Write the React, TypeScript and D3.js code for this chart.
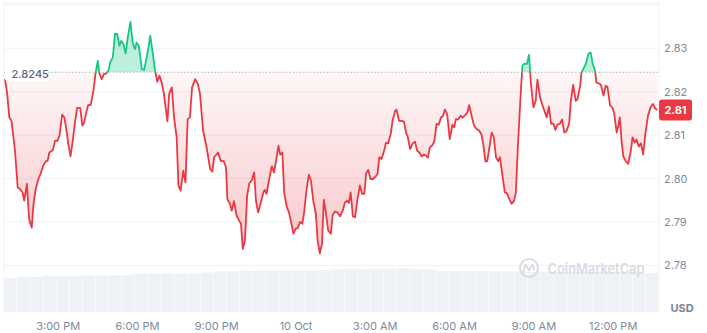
import React from 'react';
import * as d3 from 'd3';

const START = new Date(2024, 9, 9, 12, 57);
const SPAN_MIN = 1487;

const minutes = [
  2,7,12,17,25,31,36,42,46,52,57,63,67,72,78,83,89,95,99,103,
  111,116,121,126,132,137,142,146,151,156,161,166,173,178,182,186,191,197,203,208,
  213,216,222,227,232,237,241,247,252,257,262,266,271,276,281,287,292,297,301,306,
  313,318,324,328,332,338,343,348,353,358,363,371,375,381,386,392,396,401,407,412,
  417,422,427,434,440,445,452,460,468,473,477,486,492,
  499,504,507,513,517,522,528,534,538,542,547,552,557,562,568,572,577,583,589,592,
  596,602,608,613,617,623,627,632,636,642,647,651,657,662,667,672,677,681,686,692,
  697,702,708,712,717,722,726,731,736,742,746,751,757,763,769,774,779,783,787,792,
  797,802,808,813,818,822,827,832,838,844,848,852,857,863,867,872,878,882,888,891,
  897,903,908,913,916,922,928,933,938,943,948,953,958,962,967,972,977,982,987,992,
  996,1001,1006,1012,1018,1022,1026,1031,1037,1041,1046,1052,1056,1062,1067,1073,1079,1084,1088,1093,
  1097,1102,1107,1112,1117,1122,1126,1131,1137,1142,1147,1152,1158,1162,1167,1173,1177,1180,1187,1192,
  1196,1202,1207,1211,1217,1222,1227,1232,1237,1242,1247,1252,1256,1262,1267,1272,1277,1283,1287,1292,
  1298,1302,1308,1311,1317,1321,1327,1332,1336,1342,1345,1351,1355,1361,1366,1370,1376,1381,1385,1391,
  1394,1398,1402,1406,1411,1417,1423,1427,1432,1436,1441,1446,1451,1456,1462,1468,1473,1478,1483,
];

const prices = [
  2.8229,2.8198,2.8141,2.8133,2.8064,2.7980,2.7976,2.7968,2.7949,2.7988,
  2.7907,2.7887,2.7942,2.7976,2.7999,2.8011,2.8030,2.8040,2.8041,2.8060,
  2.8066,2.8087,2.8087,2.8099,2.8147,2.8141,2.8110,2.8080,2.8051,2.8087,
  2.8129,2.8163,2.8163,2.8122,2.8129,2.8149,2.8169,2.8170,2.8202,2.8244,
  2.8271,2.8244,2.8229,2.8241,2.8242,2.8248,2.8267,2.8279,2.8334,2.8333,
  2.8306,2.8317,2.8310,2.8288,2.8325,2.8361,2.8313,2.8298,2.8313,2.8306,
  2.8252,2.8250,2.8279,2.8302,2.8329,2.8287,2.8248,2.8223,2.8237,2.8221,
  2.8195,2.8132,2.8195,2.8210,2.8141,2.8095,2.7984,2.7972,2.8018,2.7991,
  2.8137,2.8141,2.8210,2.8229,2.8218,2.8195,2.8110,2.8072,2.8022,2.8016,
  2.8049,2.8060,2.8041,
  2.8040,2.8026,2.7953,2.7942,2.7926,2.7948,2.7915,2.7903,2.7896,2.7838,
  2.7857,2.7961,2.7989,2.7995,2.8014,2.7949,2.7922,2.7945,2.7968,2.7974,
  2.7965,2.7999,2.8028,2.8014,2.8037,2.8076,2.8055,2.8060,2.7968,2.7934,
  2.7922,2.7903,2.7873,2.7884,2.7886,2.7900,2.7896,2.7919,2.7968,2.8009,
  2.7995,2.7949,2.7919,2.7857,2.7828,2.7850,2.7951,2.7919,2.7880,2.7873,
  2.7915,2.7924,2.7922,2.7913,2.7926,2.7945,2.7949,2.7944,2.7968,2.7913,
  2.7911,2.7949,2.7984,2.7965,2.7965,2.8011,2.8020,2.7999,2.7999,2.8005,
  2.8011,2.8049,2.8045,2.8064,2.8082,2.8081,2.8103,2.8133,2.8156,2.8159,
  2.8133,2.8133,2.8131,2.8104,2.8099,2.8068,2.8081,2.8085,2.8064,2.8060,
  2.8051,2.8055,2.8053,2.8048,2.8072,2.8076,2.8086,2.8126,2.8124,2.8141,
  2.8143,2.8159,2.8149,2.8091,2.8124,2.8118,2.8137,2.8136,2.8145,2.8140,
  2.8145,2.8152,2.8169,2.8143,2.8122,2.8114,2.8110,2.8101,2.8080,2.8039,
  2.8040,2.8072,2.8106,2.8095,2.8049,2.8040,2.8049,2.8011,2.7968,2.7966,
  2.7953,2.7942,2.7948,2.7968,2.8080,2.8195,2.8260,2.8264,2.8264,2.8285,
  2.8221,2.8164,2.8179,2.8228,2.8187,2.8170,2.8156,2.8141,2.8166,2.8126,
  2.8127,2.8112,2.8124,2.8126,2.8136,2.8106,2.8109,2.8127,2.8179,2.8216,
  2.8179,2.8183,2.8214,2.8244,2.8256,2.8264,2.8288,2.8290,2.8267,2.8247,
  2.8221,2.8219,2.8216,2.8191,2.8214,2.8211,2.8168,2.8164,2.8152,2.8106,
  2.8118,2.8141,2.8087,2.8051,2.8041,2.8034,2.8064,2.8095,2.8083,2.8090,
  2.8074,2.8081,2.8055,2.8103,2.8145,2.8164,2.8172,2.8162,2.8158,
];

// 24h volume (millions), one bar per ~30 minutes
const volumes = [
  102,106,106,109,109,109,109.5,109.5,110,110.4,
  115,115,115.2,115.5,115.8,118,121,121.5,124,124,
  124.2,124.5,124.8,125,125.4,128,128,128,128.4,128.7,
  131,128,128,123,123,123,122.4,121,121,121,
  120,120,120,120,120,120,120,119.4,117,117,
];

const yTicks = [2.78, 2.79, 2.8, 2.81, 2.82, 2.83, 2.84];
const yLabelTicks = [2.78, 2.79, 2.8, 2.81, 2.82, 2.83];
const baseline = 2.8245;
const baselineLabel = '2.8245';
const lastLabel = '2.81';
const currency = 'USD';

const W = 707;
const H = 333;
const LEFT = 4;
const RIGHT = 659;
const TOP = 3;
const VOL_BOTTOM = 312;

const RED = '#ea3943';
const GREEN = '#16c784';
const GRID = '#eff2f5';
const AXIS_TEXT = '#808a9d';
const FONT = 'Inter, "Noto Sans", sans-serif';

export default function App() {
  const end = new Date(START.getTime() + SPAN_MIN * 60000);
  const x = d3.scaleTime().domain([START, end]).range([LEFT, RIGHT]);
  const y = d3.scaleLinear().domain([2.78, 2.84]).range([265.4, 4.9]);
  const vy = d3.scaleLinear().domain([0, 150]).range([VOL_BOTTOM, VOL_BOTTOM - 50]);

  const n = Math.min(minutes.length, prices.length);
  const data: [Date, number][] = [];
  for (let i = 0; i < n; i++) {
    data.push([new Date(START.getTime() + minutes[i] * 60000), prices[i]]);
  }
  const by = y(baseline);

  const line = d3.line<[Date, number]>().x(d => x(d[0])).y(d => y(d[1]));
  const area = d3.area<[Date, number]>().x(d => x(d[0])).y0(by).y1(d => y(d[1]));
  const lp = line(data) || '';
  const ap = area(data) || '';

  const xTicks = x.ticks(d3.timeHour.every(3) as any);
  const fmtTime = d3.timeFormat('%-I:%M %p');
  const fmtDay = d3.timeFormat('%-d %b');
  const fmt = (d: Date) => (d.getHours() === 0 ? fmtDay(d) : fmtTime(d));

  const dt = SPAN_MIN / volumes.length;
  const lastY = y(prices[n - 1]);

  return (
    <svg width={W} height={H} style={{ position: 'absolute', left: 0, top: 0, fontFamily: FONT }}>
      <defs>
        <clipPath id="above">
          <rect x={0} y={0} width={W} height={by} />
        </clipPath>
        <clipPath id="below">
          <rect x={0} y={by} width={W} height={H - by} />
        </clipPath>
        <linearGradient id="redGrad" gradientUnits="userSpaceOnUse" x1={0} y1={by} x2={0} y2={y(2.78)}>
          <stop offset="0" stopColor={RED} stopOpacity={0.04} />
          <stop offset="1" stopColor={RED} stopOpacity={0.3} />
        </linearGradient>
      </defs>
      <rect x={0} y={0} width={W} height={H} fill="#fff" />

      {/* volume bars */}
      {volumes.map((v, i) => {
        const x0 = x(new Date(START.getTime() + i * dt * 60000));
        const x1 = x(new Date(START.getTime() + (i + 1) * dt * 60000));
        return (
          <rect key={'v' + i} x={x0} y={vy(v)} width={Math.max(0, x1 - x0 - 0.6)} height={VOL_BOTTOM - vy(v)} fill="#eef1f5" />
        );
      })}

      {/* grid */}
      {yTicks.map(t => (
        <line key={'g' + t} x1={LEFT} x2={RIGHT} y1={y(t)} y2={y(t)} stroke={GRID} strokeWidth={1} />
      ))}
      <line x1={LEFT} x2={RIGHT} y1={TOP} y2={TOP} stroke={GRID} />
      <line x1={LEFT} x2={LEFT} y1={TOP} y2={VOL_BOTTOM} stroke={GRID} />
      <line x1={RIGHT} x2={RIGHT} y1={TOP} y2={VOL_BOTTOM} stroke={GRID} />

      {/* areas */}
      <path d={ap} fill="url(#redGrad)" clipPath="url(#below)" />
      <path d={ap} fill={GREEN} fillOpacity={0.28} clipPath="url(#above)" />

      {/* baseline */}
      <line x1={LEFT} x2={RIGHT} y1={by} y2={by} stroke="#9aa4b6" strokeWidth={1} strokeDasharray="1.2,2.2" />

      {/* lines */}
      <path d={lp} fill="none" stroke={RED} strokeWidth={1.8} strokeLinejoin="round" clipPath="url(#below)" />
      <path d={lp} fill="none" stroke={GREEN} strokeWidth={1.8} strokeLinejoin="round" clipPath="url(#above)" />

      {/* baseline label */}
      <rect x={5} y={by - 7} width={43} height={16} rx={3} fill="#fff" />
      <text x={11.5} y={by + 5.5} fontSize={11} fill="#58667e" fontWeight={500}>{baselineLabel}</text>

      {/* y labels */}
      {yLabelTicks.map(t => (
        <text key={'yl' + t} x={664} y={y(t) + 4} fontSize={11} fill={AXIS_TEXT}>{t.toFixed(2)}</text>
      ))}

      {/* last price badge */}
      <rect x={RIGHT} y={lastY - 10.5} width={33} height={21} rx={3} fill={RED} />
      <text x={RIGHT + 16.5} y={lastY + 4} fontSize={11} fontWeight={700} fill="#fff" textAnchor="middle">{lastLabel}</text>

      {/* x labels */}
      {xTicks.map((t, i) => (
        <text key={'xl' + i} x={x(t)} y={330} fontSize={11} fill={AXIS_TEXT} textAnchor="middle">{fmt(t)}</text>
      ))}

      <text x={670.5} y={312} fontSize={11} fontWeight={700} fill="#7b8499">{currency}</text>

      {/* watermark */}
      <g opacity={0.9}>
        <circle cx={529} cy={268} r={9} fill="none" stroke="#d3d9e3" strokeWidth={2} />
        <path d="M523.5,272 L525.5,264.5 L529,270.5 L532.5,264.5 L534,270" fill="none" stroke="#d3d9e3" strokeWidth={1.8} strokeLinejoin="round" strokeLinecap="round" />
        <text x={547.5} y={273.5} fontSize={15} fontWeight={600} fill="#d3d9e3" textLength={97} lengthAdjust="spacingAndGlyphs">CoinMarketCap</text>
      </g>
    </svg>
  );
}
